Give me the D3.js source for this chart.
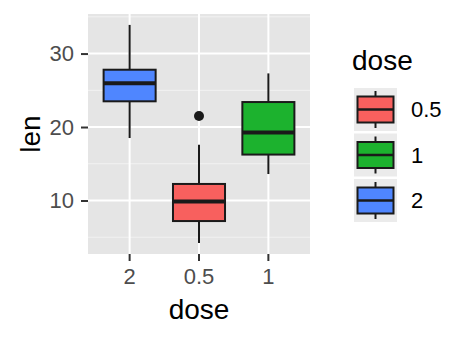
<!DOCTYPE html>
<html>
<head>
<meta charset="utf-8">
<script src="https://cdn.jsdelivr.net/npm/d3@7"></script>
<style>
  body { margin: 0; background: #fff; }
  svg { display: block; font-family: "Liberation Sans", Arial, sans-serif; }
</style>
</head>
<body>
<div id="chart"></div>
<script>
// box stats per dose, in x-axis order
const doses = ["2", "0.5", "1"];
const whiskerLow = [18.5, 4.2, 13.6];
const q1 = [23.5, 7.2, 16.25];
const medians = [25.95, 9.85, 19.25];
const q3 = [27.8, 12.25, 23.4];
const whiskerHigh = [33.9, 17.6, 27.3];
const outliers = [[], [21.5], []];
const legendDoses = ["0.5", "1", "2"];
const yTicks = [10, 20, 30];
const yMinor = [5, 15, 25, 35];

const width = 474, height = 340;
const panel = { left: 88, right: 310, top: 14, bottom: 254 };

const svg = d3.select("#chart").append("svg")
    .attr("width", width)
    .attr("height", height);

const color = d3.scaleOrdinal(legendDoses, ["#f8605e", "#1cb22e", "#4f86ff"]);

const x = d3.scaleBand(doses, [panel.left, panel.right])
    .paddingInner(0)
    .paddingOuter(0.1);

const y = d3.scaleLinear([2.715, 35.385], [panel.bottom, panel.top]);

const data = doses.map((d, i) => ({
    dose: d, lo: whiskerLow[i], q1: q1[i], med: medians[i],
    q3: q3[i], hi: whiskerHigh[i], out: outliers[i]
}));

// panel + grid
svg.append("rect")
    .attr("x", panel.left).attr("y", panel.top)
    .attr("width", panel.right - panel.left)
    .attr("height", panel.bottom - panel.top)
    .attr("fill", "#e5e5e5");

svg.append("g").selectAll("line")
    .data(yMinor)
    .join("line")
    .attr("x1", panel.left).attr("x2", panel.right)
    .attr("y1", d => y(d)).attr("y2", d => y(d))
    .attr("stroke", "#f2f2f2").attr("stroke-width", 1);

svg.append("g").selectAll("line")
    .data(yTicks)
    .join("line")
    .attr("x1", panel.left).attr("x2", panel.right)
    .attr("y1", d => y(d)).attr("y2", d => y(d))
    .attr("stroke", "#fff").attr("stroke-width", 2);

svg.append("g").selectAll("line")
    .data(doses)
    .join("line")
    .attr("x1", d => x(d) + x.bandwidth() / 2).attr("x2", d => x(d) + x.bandwidth() / 2)
    .attr("y1", panel.top).attr("y2", panel.bottom)
    .attr("stroke", "#fff").attr("stroke-width", 2);

// axes
const yAxis = svg.append("g")
    .attr("transform", `translate(${panel.left},0)`)
    .call(d3.axisLeft(y).tickValues(yTicks).tickSize(7).tickPadding(7).tickSizeOuter(0));
yAxis.select(".domain").remove();

const xAxis = svg.append("g")
    .attr("transform", `translate(0,${panel.bottom})`)
    .call(d3.axisBottom(x).tickSize(7).tickPadding(7).tickSizeOuter(0));
xAxis.select(".domain").remove();

svg.selectAll(".tick line").attr("stroke", "#333").attr("stroke-width", 2);
svg.selectAll(".tick text")
    .attr("fill", "#4d4d4d")
    .style("font-size", "22px")
    .style("font-family", "'Liberation Sans', Arial, sans-serif");

// boxes
const bw = x.bandwidth() * 0.75;
const boxes = svg.append("g").selectAll("g")
    .data(data)
    .join("g")
    .attr("transform", d => `translate(${x(d.dose) + x.bandwidth() / 2},0)`);

boxes.append("line")
    .attr("y1", d => y(d.hi)).attr("y2", d => y(d.q3))
    .attr("stroke", "#1a1a1a").attr("stroke-width", 2);
boxes.append("line")
    .attr("y1", d => y(d.q1)).attr("y2", d => y(d.lo))
    .attr("stroke", "#1a1a1a").attr("stroke-width", 2);
boxes.append("rect")
    .attr("x", -bw / 2).attr("width", bw)
    .attr("y", d => y(d.q3))
    .attr("height", d => y(d.q1) - y(d.q3))
    .attr("fill", d => color(d.dose))
    .attr("stroke", "#1a1a1a").attr("stroke-width", 2);
boxes.append("line")
    .attr("x1", -bw / 2).attr("x2", bw / 2)
    .attr("y1", d => y(d.med)).attr("y2", d => y(d.med))
    .attr("stroke", "#1a1a1a").attr("stroke-width", 4);
boxes.selectAll("circle")
    .data(d => d.out)
    .join("circle")
    .attr("cy", d => y(d))
    .attr("r", 5)
    .attr("fill", "#1a1a1a");

// axis titles
svg.append("text")
    .attr("x", (panel.left + panel.right) / 2)
    .attr("y", 319)
    .attr("text-anchor", "middle")
    .style("font-size", "28px")
    .text("dose");

svg.append("text")
    .attr("transform", `translate(40,${(panel.top + panel.bottom) / 2}) rotate(-90)`)
    .attr("text-anchor", "middle")
    .style("font-size", "28px")
    .text("len");

// legend
const legend = svg.append("g").attr("transform", "translate(354,0)");
legend.append("text")
    .attr("x", -2).attr("y", 70)
    .style("font-size", "28px")
    .text("dose");

const keySize = 43, keyStep = 45.5, keyTop = 88;
const keys = legend.selectAll("g.key")
    .data(legendDoses)
    .join("g")
    .attr("class", "key")
    .attr("transform", (d, i) => `translate(0,${keyTop + i * keyStep})`);

keys.append("rect")
    .attr("width", keySize).attr("height", keySize)
    .attr("fill", "#ebebeb");
keys.append("line")
    .attr("x1", keySize / 2).attr("x2", keySize / 2)
    .attr("y1", 3).attr("y2", keySize - 3)
    .attr("stroke", "#1a1a1a").attr("stroke-width", 2);
keys.append("rect")
    .attr("x", 3.5).attr("y", 8.5)
    .attr("width", keySize - 7).attr("height", keySize - 17)
    .attr("fill", d => color(d))
    .attr("stroke", "#1a1a1a").attr("stroke-width", 2);
keys.append("line")
    .attr("x1", 3.5).attr("x2", keySize - 3.5)
    .attr("y1", keySize / 2).attr("y2", keySize / 2)
    .attr("stroke", "#1a1a1a").attr("stroke-width", 2.5);
keys.append("text")
    .attr("x", 57).attr("y", keySize / 2)
    .attr("dy", "0.35em")
    .style("font-size", "22px")
    .text(d => d);
</script>
</body>
</html>
